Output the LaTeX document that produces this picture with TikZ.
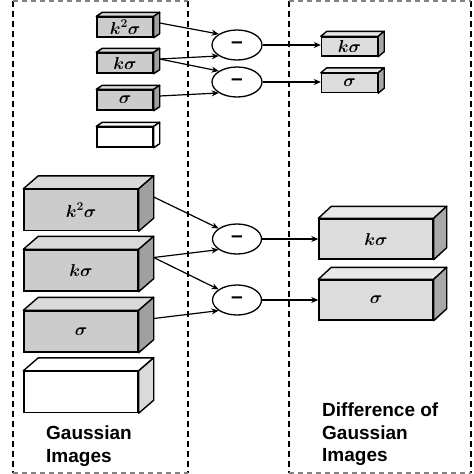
\documentclass[tikz,border=0pt]{standalone}
\usepackage{amsmath,bm}
\usepackage{fontspec}
\setsansfont{Liberation Sans}
\usetikzlibrary{shapes, arrows.meta, positioning, calc}
\definecolor{facegray}{RGB}{204,204,204}
\definecolor{topgray}{RGB}{218,218,218}
\definecolor{sidegray}{RGB}{160,160,160}
\definecolor{lightface}{RGB}{220,220,220}
\definecolor{lighttop}{RGB}{232,232,232}
\definecolor{lightside}{RGB}{168,168,168}
\definecolor{framegray}{RGB}{130,130,130}

\begin{document}
\begin{tikzpicture}[x=1pt, y=-1pt,
  gbox/.style={draw, line width=1.4pt, inner sep=0pt, font=\fontsize{17}{20}\selectfont},
  gsmall/.style={gbox, minimum width=56, minimum height=20},
  glarge/.style={gbox, minimum width=114, minimum height=41},
  diff/.style={draw, ellipse, line width=1.3pt, minimum width=50, minimum height=30, inner sep=0pt, font=\sffamily\bfseries\fontsize{21}{21}\selectfont},
  link/.style={-{Stealth[length=7pt, width=6pt]}, line width=1.2pt},
  vline/.style={dash pattern=on 6pt off 4pt, line width=1.2pt},
  hline/.style={dash pattern=on 5pt off 4pt, line width=1.2pt, framegray},
  caption/.style={align=left, anchor=north west, inner sep=0pt, font=\sffamily\bfseries\fontsize{19}{22.5}\selectfont}
]
  \useasboundingbox (0,0) rectangle (474,474);

  % dashed frames
  \draw[vline] (13,1) -- (13,473) (188,1) -- (188,473);
  \draw[vline] (289,1) -- (289,473) (471,1) -- (471,473);
  \draw[hline] (13,1) -- (188,1) (13,473) -- (188,473);
  \draw[hline] (289,1) -- (471,1) (289,473) -- (471,473);

  % gaussian images (small)
  \node[gsmall, fill=facegray] (g1) at (125,27) {$\bm{k^2\sigma}$};
  \node[gsmall, fill=facegray] (g2) at (125,63) {$\bm{k\sigma}$};
  \node[gsmall, fill=facegray] (g3) at (125,100) {$\bm{\sigma}$};
  \node[gsmall, fill=white] (g4) at (125,137) {};
  % gaussian images (large)
  \node[glarge, fill=facegray] (G1) at (81,210) {$\bm{k^2\sigma}$};
  \node[glarge, fill=facegray] (G2) at (81,270.5) {$\bm{k\sigma}$};
  \node[glarge, fill=facegray] (G3) at (81,331.5) {$\bm{\sigma}$};
  \node[glarge, fill=white] (G4) at (81,392) {};
  % difference images
  \node[gsmall, fill=lightface, minimum height=19] (r1) at (349.5,46.5) {$\bm{k\sigma}$};
  \node[gsmall, fill=lightface, minimum height=19] (r2) at (349.5,83) {$\bm{\sigma}$};
  \node[glarge, fill=lightface, minimum height=40] (R1) at (376,239) {$\bm{k\sigma}$};
  \node[glarge, fill=lightface, minimum height=40] (R2) at (376,300) {$\bm{\sigma}$};

  % top and side faces
  \foreach \n/\d/\e/\tc/\sc in {g1/6/4/topgray/sidegray, g2/6/4/topgray/sidegray,
      g3/6/4/topgray/sidegray, g4/6/4/white/white,
      G1/15/13/topgray/sidegray, G2/15/13/topgray/sidegray,
      G3/15/13/topgray/sidegray, G4/15/13/white/topgray,
      r1/6/5/lighttop/lightside, r2/6/5/lighttop/lightside,
      R1/13/12/lighttop/lightside, R2/13/12/lighttop/lightside} {
    \filldraw[fill=\tc, line width=1.4pt, line join=round] (\n.north west) -- ($(\n.north west)+(\d,-\e)$)
      -- ($(\n.north east)+(\d,-\e)$) -- (\n.north east) -- cycle;
    \filldraw[fill=\sc, line width=1.4pt, line join=round] (\n.north east) -- ($(\n.north east)+(\d,-\e)$)
      -- ($(\n.south east)+(\d,-\e)$) -- (\n.south east) -- cycle;
    \coordinate (\n-b) at ($(\n.east)+(\d,-\e)$);
  }

  % subtraction
  \node[diff] (d1) at (237,45) {--};
  \node[diff] (d2) at (237,82) {--};
  \node[diff, minimum width=49] (D1) at (237,239) {--};
  \node[diff, minimum width=49] (D2) at (237,300) {--};

  \draw[link] (g1-b) -- (d1.149);
  \draw[link] (g2-b) -- (d1.211);
  \draw[link] (g2-b) -- (d2.149);
  \draw[link] (g3-b) -- (d2.211);
  \draw[link] (G1-b) -- (D1.150);
  \draw[link] (G2-b) -- (D1.210);
  \draw[link] (G2-b) -- (D2.150);
  \draw[link] (G3-b) -- (D2.210);
  \draw[link] (d1.east) -- (d1.east -| r1.west);
  \draw[link] (d2.east) -- (d2.east -| r2.west);
  \draw[link] (D1.east) -- (D1.east -| R1.west);
  \draw[link] (D2.east) -- (D2.east -| R2.west);

  \node[caption] (lg) at (46,426) {Gaussian\\Images};
  \node[caption] (ld) at (322,403) {Difference of\\Gaussian\\Images};
\end{tikzpicture}
\end{document}
